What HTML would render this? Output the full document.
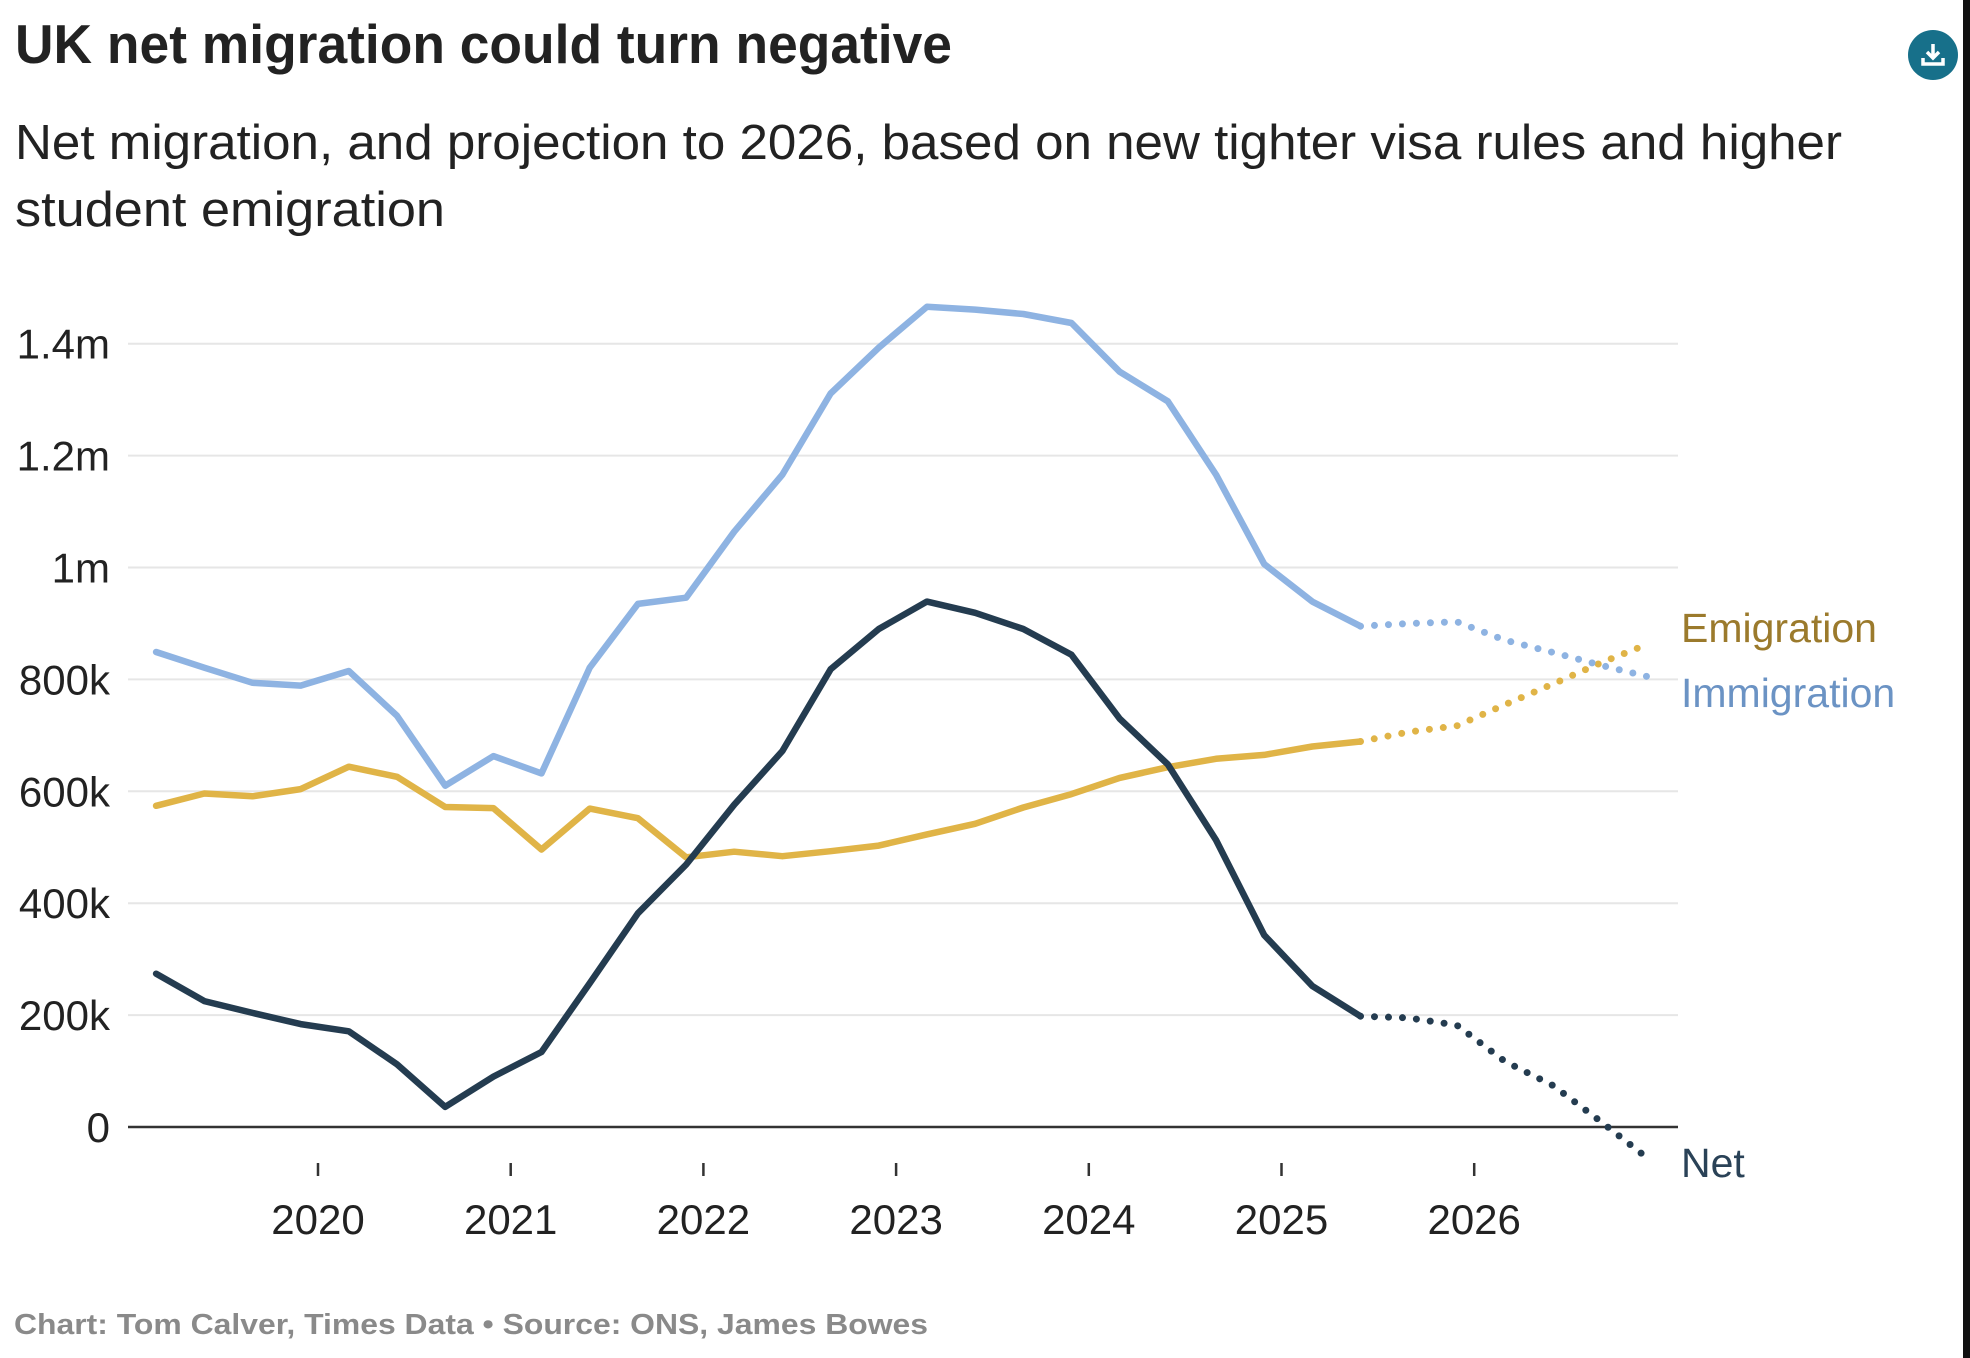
<!DOCTYPE html>
<html><head><meta charset="utf-8"><style>
html,body{margin:0;padding:0;background:#fff;}
body{width:1970px;height:1358px;overflow:hidden;position:relative;font-family:"Liberation Sans",sans-serif;}
svg{position:absolute;left:0;top:0;}
</style></head><body>
<svg id="chart" width="1970" height="1358" xmlns="http://www.w3.org/2000/svg">
<rect x="1963" y="0" width="7" height="1358" fill="#111"/>
<text x="15" y="63" font-size="55" font-weight="bold" fill="#222" textLength="937" lengthAdjust="spacingAndGlyphs">UK net migration could turn negative</text>
<text x="15" y="159" font-size="49" fill="#222" textLength="1827" lengthAdjust="spacingAndGlyphs">Net migration, and projection to 2026, based on new tighter visa rules and higher</text>
<text x="15" y="226" font-size="49" fill="#222" textLength="430" lengthAdjust="spacingAndGlyphs">student emigration</text>
<g>
<circle cx="1933" cy="55" r="25" fill="#17708a"/>
<path d="M1933 44 v14 M1927 52 l6 6 l6 -6 M1923 58 v6 h20 v-6" stroke="#fff" stroke-width="3.5" fill="none"/>
</g>
<g id="grid"></g><g id="series"></g>
<text x="14" y="1334" font-size="29" fill="#8a8a8a" font-weight="bold" textLength="914" lengthAdjust="spacingAndGlyphs">Chart: Tom Calver, Times Data • Source: ONS, James Bowes</text>
</svg>
<script>
const yTicks=[0,200,400,600,800,1000,1200,1400];
const yTickLabels=["0","200k","400k","600k","800k","1m","1.2m","1.4m"];
const xTicks=[2020,2021,2022,2023,2024,2025,2026];
const dates=[2019.16,2019.41,2019.66,2019.91,2020.16,2020.41,2020.66,2020.91,2021.16,2021.41,2021.66,2021.91,2022.16,2022.41,2022.66,2022.91,2023.16,2023.41,2023.66,2023.91,2024.16,2024.41,2024.66,2024.91,2025.16,2025.41];
const immigration=[849,821,794,789,815,735,610,663,632,821,935,946,1064,1166,1311,1393,1466,1461,1453,1437,1350,1297,1166,1006,939,895];
const emigration=[574,596,591,604,644,626,572,570,496,569,552,482,492,484,493,503,523,542,571,595,624,643,658,665,680,689];
const net=[274,225,204,184,171,112,36,90,134,257,382,469,576,672,818,890,939,919,890,844,730,648,513,343,252,198];
const projDates=[2025.41,2025.66,2025.91,2026.16,2026.41,2026.66,2026.9];
const projImmigration=[895,900,903,870,848,825,805];
const projEmigration=[689,706,717,755,792,830,863];
const projNet=[198,195,182,117,74,9,-56];

const NS="http://www.w3.org/2000/svg";
const X=y=>318+(y-2020)*192.7;
const Y=v=>1127-v/200*111.9;
function mk(tag,attrs,parent){const e=document.createElementNS(NS,tag);for(const k in attrs)e.setAttribute(k,attrs[k]);parent.appendChild(e);return e;}
const grid=document.getElementById('grid'),ser=document.getElementById('series');
yTicks.forEach((v,i)=>{
  const l=mk('line',{x1:128,x2:1678,y1:Y(v),y2:Y(v),stroke:v===0?'#333':'#e6e6e6','stroke-width':v===0?2.5:2},grid);
  
  
  const t=mk('text',{x:110,y:Y(v)+15,'text-anchor':'end','font-size':42,fill:'#222'},grid);
  t.textContent=yTickLabels[i];
  
  
});
xTicks.forEach(yr=>{
  const l=mk('line',{x1:X(yr),x2:X(yr),y1:1163,y2:1176,stroke:'#333','stroke-width':2.5},grid);
  
  
  const t=mk('text',{x:X(yr),y:1234,'text-anchor':'middle','font-size':42,fill:'#222'},grid);
  t.textContent=String(yr);
  
  
});
function pts(ds,vs){return ds.map((d,i)=>X(d).toFixed(1)+','+Y(vs[i]).toFixed(1)).join(' ');}
function series(name,color,vals,pvals){
  const p=mk('polyline',{points:pts(dates,vals),fill:'none',stroke:color,'stroke-width':6.5,'stroke-linejoin':'round','stroke-linecap':'round'},ser);
  
  
  const q=mk('polyline',{points:pts(projDates,pvals),fill:'none',stroke:color,'stroke-width':7,'stroke-linecap':'round','stroke-dasharray':'0 14'},ser);
  
  
}
series('emigration','#e0b447',emigration,projEmigration);
series('immigration','#8eb3e2',immigration,projImmigration);
series('net','#243c50',net,projNet);
[['Emigration','#9b7a2c',642],['Immigration','#6b93c4',707],['Net','#2a4257',1177]].forEach(([n,c,y])=>{
  const t=mk('text',{x:1681,y:y,'font-size':41,fill:c},ser);
  t.textContent=n;
  
  
});
</script>
</body></html>
